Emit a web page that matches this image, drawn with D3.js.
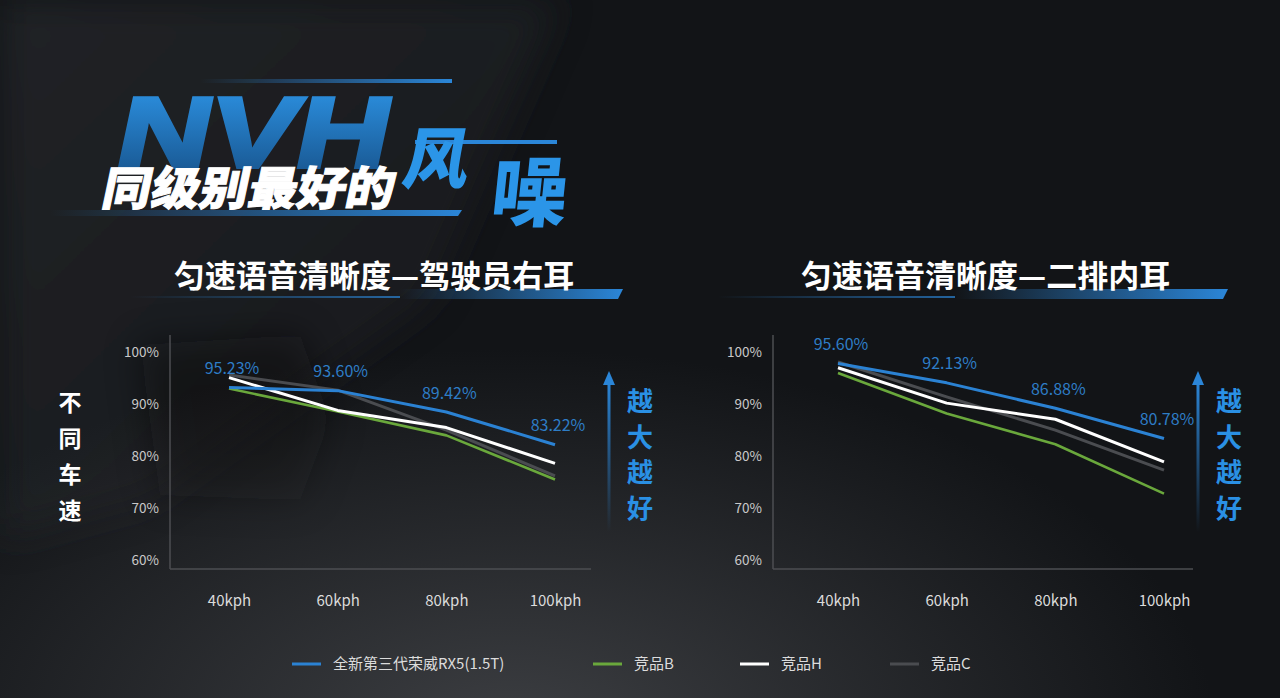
<!DOCTYPE html>
<html>
<head>
<meta charset="utf-8">
<script src="https://cdn.jsdelivr.net/npm/d3@7"></script>
<style>
  html, body { margin: 0; padding: 0; background: #141619; }
  svg { display: block; }
  text { font-family: "Noto Sans CJK SC", "Noto Sans", sans-serif; }
</style>
</head>
<body>
<script>
// Data
const speeds = ["40kph", "60kph", "80kph", "100kph"];
const yTicks = [60, 70, 80, 90, 100];
const seriesNames = ["全新第三代荣威RX5(1.5T)", "竞品B", "竞品H", "竞品C"];

// 驾驶员右耳
const driverRX5 = [93.2, 92.6, 88.5, 82.2];
const driverB = [93.0, 88.6, 84.0, 75.5];
const driverH = [95.1, 88.8, 85.5, 78.6];
const driverC = [95.6, 92.7, 85.0, 76.2];
const driverLabels = ["95.23%", "93.60%", "89.42%", "83.22%"];

// 二排内耳
const rearRX5 = [97.8, 94.1, 89.2, 83.4];
const rearB = [96.0, 88.2, 82.3, 72.8];
const rearH = [97.0, 90.2, 87.1, 78.9];
const rearC = [98.1, 91.4, 85.0, 77.3];
const rearLabels = ["95.60%", "92.13%", "86.88%", "80.78%"];

const colors = ["#2b82d3", "#6aa83c", "#ffffff", "#4a4c50"];
const W = 1280, H = 698;

const svg = d3.select("body").append("svg")
  .attr("width", W).attr("height", H);
const defs = svg.append("defs");

// fundo
const bgGrad = defs.append("radialGradient").attr("id", "fog")
  .attr("cx", "0.4").attr("cy", "1.05").attr("r", "0.55");
bgGrad.append("stop").attr("offset", "0%").attr("stop-color", "#44464a").attr("stop-opacity", 0.85);
bgGrad.append("stop").attr("offset", "100%").attr("stop-color", "#44464a").attr("stop-opacity", 0);

const tlGrad = defs.append("linearGradient").attr("id", "tl")
  .attr("x1", 0).attr("y1", 0).attr("x2", 1).attr("y2", 1);
tlGrad.append("stop").attr("offset", "0%").attr("stop-color", "#2c2e32");
tlGrad.append("stop").attr("offset", "100%").attr("stop-color", "#1a1c1f");

const blur = defs.append("filter").attr("id", "soft")
  .attr("x", "-30%").attr("y", "-30%").attr("width", "160%").attr("height", "160%");
blur.append("feGaussianBlur").attr("stdDeviation", 18);

svg.append("rect").attr("width", W).attr("height", H).attr("fill", "#121417");
svg.append("path")
  .attr("d", "M0,0 L560,0 L430,300 L150,500 L0,540 Z")
  .attr("fill", "url(#tl)").attr("opacity", 0.55).attr("filter", "url(#soft)");
svg.append("path")
  .attr("d", "M140,345 L300,335 L330,420 L300,500 L160,495 Z")
  .attr("fill", "#0c0d10").attr("opacity", 0.5).attr("filter", "url(#soft)");
svg.append("rect").attr("width", W).attr("height", H).attr("fill", "url(#fog)");

// gradientes azuis
const fade = defs.append("linearGradient").attr("id", "fadeR")
  .attr("x1", 0).attr("x2", 1).attr("y1", 0).attr("y2", 0);
fade.append("stop").attr("offset", "0%").attr("stop-color", "#2b86d8").attr("stop-opacity", 0);
fade.append("stop").attr("offset", "100%").attr("stop-color", "#2b86d8").attr("stop-opacity", 1);

const nvhGrad = defs.append("linearGradient").attr("id", "nvh")
  .attr("x1", 0).attr("x2", 0).attr("y1", 0).attr("y2", 1);
nvhGrad.append("stop").attr("offset", "0%").attr("stop-color", "#2e97ea");
nvhGrad.append("stop").attr("offset", "100%").attr("stop-color", "#164f86");

const arrowGrad = defs.append("linearGradient").attr("id", "arrowG")
  .attr("x1", 0).attr("x2", 0).attr("y1", 0).attr("y2", 1);
arrowGrad.append("stop").attr("offset", "0%").attr("stop-color", "#2b86d8");
arrowGrad.append("stop").attr("offset", "100%").attr("stop-color", "#2b86d8").attr("stop-opacity", 0);

// Titulo
const title = svg.append("g");
title.append("rect").attr("x", 200).attr("y", 79).attr("width", 252).attr("height", 4).attr("fill", "url(#fadeR)");
title.append("text")
  .attr("transform", "translate(112,167) skewX(-12)")
  .attr("textLength", 272).attr("lengthAdjust", "spacingAndGlyphs")
  .style("font-family", "'Liberation Sans', sans-serif")
  .style("font-size", "100px").style("font-weight", 700)
  .attr("fill", "url(#nvh)").attr("stroke", "url(#nvh)").attr("stroke-width", 4)
  .text("NVH");
title.append("rect").attr("x", 415).attr("y", 140).attr("width", 142).attr("height", 4).attr("fill", "#2b86d8");
title.append("path").attr("d", "M50,210 L462,210 L458,216 L50,216 Z").attr("fill", "url(#fadeR)");
title.append("text")
  .attr("transform", "translate(100,205) skewX(-12)")
  .attr("textLength", 292).attr("lengthAdjust", "spacingAndGlyphs")
  .style("font-size", "46px").style("font-weight", 900)
  .attr("fill", "#ffffff").attr("stroke", "#ffffff").attr("stroke-width", 1)
  .text("同级别最好的");
title.append("text")
  .attr("transform", "translate(400,183) skewX(-10)")
  .style("font-size", "66px").style("font-weight", 900)
  .attr("fill", "#2b95e8").text("风");
title.append("text")
  .attr("transform", "translate(489,220) skewX(-6)")
  .style("font-size", "76px").style("font-weight", 900)
  .attr("fill", "#2b95e8").text("噪");

// Grafico
function drawChart(opt) {
  const g = svg.append("g");
  const y = d3.scaleLinear().domain([58.3, 103.3]).range([569, 335]);
  const x = d3.scalePoint().domain(speeds).range(opt.xr);

  // subtitulo
  g.append("rect").attr("x", opt.barL).attr("y", 296).attr("width", opt.barM - opt.barL).attr("height", 2)
    .attr("fill", "url(#fadeR)").attr("opacity", 0.7);
  g.append("path")
    .attr("d", `M${opt.barM},289 L${opt.barR},289 L${opt.barR - 5},299 L${opt.barM},299 Z`)
    .attr("fill", "url(#fadeR)");
  g.append("text").attr("x", opt.titleX).attr("y", 287)
    .style("font-size", "31px").style("font-weight", 700)
    .attr("fill", "#ffffff").text(opt.title);

  // eixos
  const yAxis = g.append("g").attr("transform", `translate(${opt.axisX},0)`)
    .call(d3.axisLeft(y).tickValues(yTicks).tickSize(0).tickPadding(11).tickFormat(d => d + "%"));
  yAxis.select(".domain").remove();
  yAxis.selectAll("text").style("font-size", "13.5px").attr("fill", "#c9c9c9")
    .style("font-family", "'Noto Sans CJK SC', sans-serif");

  const xAxis = g.append("g").attr("transform", "translate(0,569)")
    .call(d3.axisBottom(x).tickSize(0).tickPadding(26));
  xAxis.select(".domain").remove();
  xAxis.selectAll("text").style("font-size", "15px").attr("fill", "#dcdcdc")
    .style("font-family", "'Noto Sans CJK SC', sans-serif");

  g.append("line").attr("x1", opt.axisX).attr("x2", opt.axisX)
    .attr("y1", y(103.3)).attr("y2", y(58.3)).attr("stroke", "#4c4e52").attr("stroke-width", 1.5);
  g.append("line").attr("x1", opt.axisX).attr("x2", opt.axisEnd)
    .attr("y1", y(58.3)).attr("y2", y(58.3)).attr("stroke", "#4c4e52").attr("stroke-width", 1.5);

  // linhas (C, B, H, RX5)
  const line = d3.line().x((d, i) => x(speeds[i])).y(d => y(d));
  const order = [3, 1, 2, 0];
  order.forEach(k => {
    g.append("path").datum(opt.series[k])
      .attr("d", line).attr("fill", "none")
      .attr("stroke", colors[k]).attr("stroke-width", k === 1 ? 2.6 : 3)
      .attr("stroke-linejoin", "round");
  });

  // valores
  g.selectAll(".val").data(opt.labels).enter().append("text")
    .attr("x", (d, i) => x(speeds[i]) + 3)
    .attr("y", (d, i) => y(opt.series[0][i]) - 19)
    .attr("dy", "0.35em").attr("text-anchor", "middle")
    .style("font-size", "16px").attr("fill", "#2e7dc6").text(d => d);

  // seta
  g.append("rect").attr("x", opt.arrowX - 1.5).attr("y", 382).attr("width", 3).attr("height", 150)
    .attr("fill", "url(#arrowG)");
  g.append("path")
    .attr("d", `M${opt.arrowX},371 L${opt.arrowX + 6},385 L${opt.arrowX - 6},385 Z`)
    .attr("fill", "#2b86d8");
  g.selectAll(".better").data(["越", "大", "越", "好"]).enter().append("text")
    .attr("x", opt.arrowX + 31).attr("y", (d, i) => 402 + i * 35.5)
    .attr("dy", "0.36em").attr("text-anchor", "middle")
    .style("font-size", "26px").style("font-weight", 700)
    .attr("fill", "#2a90e4").text(d => d);
}

drawChart({
  title: "匀速语音清晰度—驾驶员右耳", titleX: 174,
  barL: 130, barM: 400, barR: 623,
  axisX: 170, axisEnd: 591, xr: [229, 555], arrowX: 609,
  series: [driverRX5, driverB, driverH, driverC], labels: driverLabels
});
drawChart({
  title: "匀速语音清晰度—二排内耳", titleX: 801,
  barL: 718, barM: 955, barR: 1228,
  axisX: 773, axisEnd: 1193, xr: [838, 1164], arrowX: 1198,
  series: [rearRX5, rearB, rearH, rearC], labels: rearLabels
});

// 不同车速
svg.selectAll(".speedLab").data(["不", "同", "车", "速"]).enter().append("text")
  .attr("x", 70).attr("y", (d, i) => 403 + i * 36)
  .attr("dy", "0.36em").attr("text-anchor", "middle")
  .style("font-size", "23px").style("font-weight", 700)
  .attr("fill", "#ffffff").text(d => d);

// Legenda
const legendX = [292, 593, 740, 890];
const legend = svg.append("g").attr("transform", "translate(0,664)");
seriesNames.forEach((name, i) => {
  legend.append("line").attr("x1", legendX[i]).attr("x2", legendX[i] + 29)
    .attr("y1", 0).attr("y2", 0).attr("stroke", colors[i]).attr("stroke-width", 3);
  legend.append("text").attr("x", legendX[i] + 41).attr("y", 0).attr("dy", "0.35em")
    .style("font-size", "15px").attr("fill", "#dcdcdc").text(name);
});
</script>
</body>
</html>
